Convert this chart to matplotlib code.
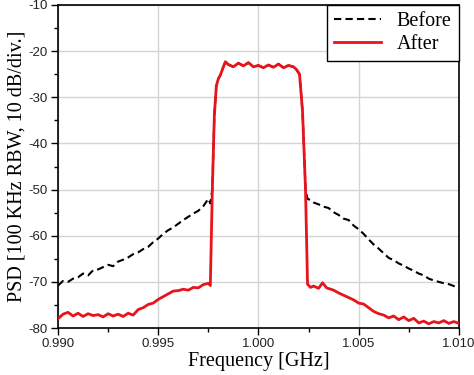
import matplotlib
matplotlib.use('Agg')
import matplotlib.pyplot as plt
from matplotlib.ticker import MultipleLocator

plt.rcParams['axes.unicode_minus'] = False

# Pass band, shared by both traces (frequency in GHz, PSD in dB)
band_freq = [
    0.99770, 0.99780, 0.99790, 0.99800, 0.99810, 0.99820, 0.99835, 0.99850,
    0.99875, 0.99900, 0.99925, 0.99950, 0.99975, 1.00000, 1.00025, 1.00050,
    1.00075, 1.00100, 1.00125, 1.00150, 1.00175, 1.00190, 1.00205, 1.00220,
    1.00235,
]
band_psd = [
    -50.0, -34.0, -27.5, -26.0, -25.2, -24.0, -22.3, -22.9,
    -23.4, -22.6, -23.2, -22.5, -23.4, -23.1, -23.6, -23.0,
    -23.5, -22.8, -23.6, -23.1, -23.4, -24.0, -25.0, -33.0,
    -50.0,
]

# "Before" skirts
before_left_freq = [
    0.99000, 0.99025, 0.99050, 0.99075, 0.99100, 0.99125, 0.99150, 0.99175,
    0.99200, 0.99225, 0.99250, 0.99275, 0.99300, 0.99325, 0.99350, 0.99375,
    0.99400, 0.99425, 0.99450, 0.99475, 0.99500, 0.99525, 0.99550, 0.99575,
    0.99600, 0.99625, 0.99650, 0.99675, 0.99700, 0.99725, 0.99750, 0.99760,
]
before_left_psd = [
    -70.8, -69.8, -70.0, -69.3, -69.0, -68.2, -68.6, -67.5,
    -67.3, -66.8, -66.3, -66.6, -65.6, -65.2, -64.7, -64.0,
    -63.6, -62.9, -62.4, -61.4, -60.6, -59.6, -58.8, -58.2,
    -57.4, -56.6, -55.9, -55.2, -54.6, -53.6, -52.0, -53.0,
]
before_right_freq = [
    1.00245, 1.00260, 1.00275, 1.00300, 1.00325, 1.00350, 1.00375, 1.00400,
    1.00425, 1.00450, 1.00475, 1.00500, 1.00525, 1.00550, 1.00575, 1.00600,
    1.00625, 1.00650, 1.00675, 1.00700, 1.00725, 1.00750, 1.00775, 1.00800,
    1.00825, 1.00850, 1.00875, 1.00900, 1.00925, 1.00950, 1.00975, 1.01000,
]
before_right_psd = [
    -52.0, -52.3, -52.8, -53.2, -53.7, -54.0, -54.9, -55.5,
    -56.3, -56.6, -57.8, -58.6, -59.6, -60.8, -61.9, -62.8,
    -63.8, -64.8, -65.3, -66.0, -66.5, -67.1, -67.6, -68.2,
    -68.6, -69.3, -69.7, -70.0, -70.3, -70.5, -70.9, -71.3,
]

# "After" skirts
after_left_freq = before_left_freq
after_left_psd = [
    -78.0, -77.0, -76.6, -77.4, -76.8, -77.5, -76.9, -77.3,
    -77.1, -77.6, -76.9, -77.4, -77.0, -77.5, -76.8, -77.2,
    -76.0, -75.6, -74.9, -74.6, -73.8, -73.2, -72.6, -72.0,
    -71.9, -71.6, -71.8, -71.2, -71.3, -70.6, -70.3, -70.8,
]
after_right_freq = [
    1.00245, 1.00260, 1.00275, 1.00300, 1.00320, 1.00340, 1.00375, 1.00400,
    1.00425, 1.00450, 1.00475, 1.00500, 1.00525, 1.00550, 1.00575, 1.00600,
    1.00625, 1.00650, 1.00675, 1.00700, 1.00725, 1.00750, 1.00775, 1.00800,
    1.00825, 1.00850, 1.00875, 1.00900, 1.00925, 1.00950, 1.00975, 1.01000,
]
after_right_psd = [
    -70.5, -71.2, -70.9, -71.4, -70.2, -71.3, -71.8, -72.4,
    -72.9, -73.4, -73.9, -74.6, -74.8, -75.6, -76.4, -76.9,
    -77.2, -77.8, -77.4, -78.2, -77.6, -78.4, -77.9, -78.9,
    -78.5, -79.1, -78.6, -78.9, -78.4, -79.0, -78.6, -79.0,
]

before_freq = before_left_freq + band_freq + before_right_freq
before_psd = before_left_psd + band_psd + before_right_psd
after_freq = after_left_freq + band_freq + after_right_freq
after_psd = after_left_psd + band_psd + after_right_psd

serif = ['Liberation Serif', 'DejaVu Serif']
sans = ['Liberation Sans', 'DejaVu Sans']

fig = plt.figure(figsize=(4.74, 3.75), dpi=100)
ax = fig.add_axes([0.1224, 0.1253, 0.8456, 0.8614])

ax.plot(before_freq, before_psd, color='black', linestyle=(0, (3.5, 2)), linewidth=1.5,
        label='Before', zorder=2)
ax.plot(after_freq, after_psd, color='#e8141b', linewidth=2.0, label='After', zorder=3)

ax.set_xlim(0.990, 1.010)
ax.set_ylim(-80, -10)
ax.xaxis.set_major_locator(MultipleLocator(0.005))
ax.xaxis.set_minor_locator(MultipleLocator(0.0025))
ax.yaxis.set_major_locator(MultipleLocator(10))
ax.yaxis.set_minor_locator(MultipleLocator(5))
ax.set_xticklabels([f'{v:.3f}' for v in ax.get_xticks()])
ax.grid(True, which='major', color='#d4d4d4', linewidth=1.0, zorder=0)
ax.set_axisbelow(True)

ax.tick_params(which='major', direction='out', length=5, width=1, labelsize=9.5,
               colors='black', labelcolor='#222222', pad=2.5)
ax.tick_params(which='minor', direction='out', length=3, width=1)
for lbl in ax.get_xticklabels() + ax.get_yticklabels():
    lbl.set_family(sans)
for sp in ax.spines.values():
    sp.set_linewidth(1.2)

ax.set_xlabel('Frequency [GHz]', fontsize=14.5, family=serif, labelpad=1)
ax.set_ylabel('PSD [100 KHz RBW, 10 dB/div.]', fontsize=14.5, family=serif, labelpad=1)

leg = ax.legend(loc='upper right', borderaxespad=0, fancybox=False, framealpha=1,
                edgecolor='black', handlelength=2.3, prop={'family': serif, 'size': 14.5},
                borderpad=0.35, labelspacing=0.2)
leg.get_frame().set_linewidth(1.0)

fig.savefig('out.png', dpi=100)
